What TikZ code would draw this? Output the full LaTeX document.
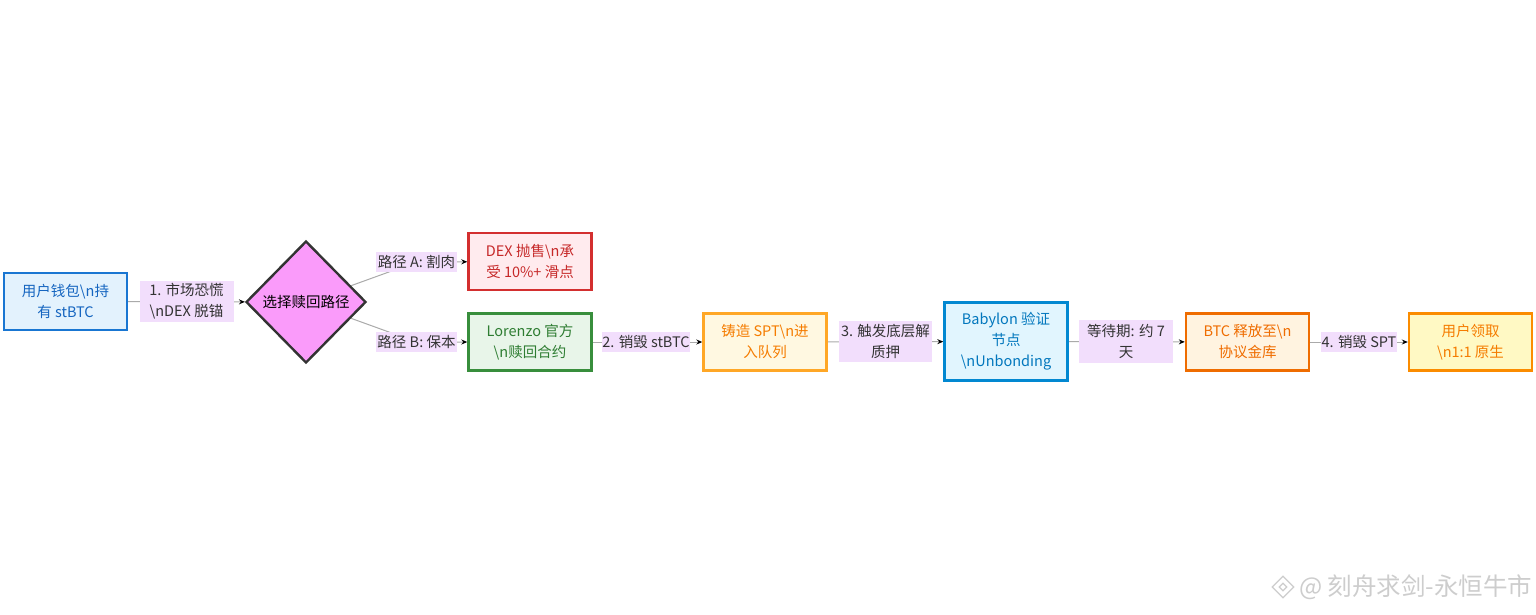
\documentclass[tikz,border=0pt]{standalone}
\usepackage{fontspec}
\setmainfont{Noto Sans CJK SC}
\usetikzlibrary{shapes.geometric,arrows.meta,backgrounds}
\definecolor{lav}{RGB}{242,222,252}
\definecolor{edgegray}{RGB}{170,170,170}
\definecolor{bluefill}{HTML}{E3F2FD}\definecolor{blueline}{HTML}{1976D2}\definecolor{bluetext}{HTML}{1565C0}
\definecolor{pinkfill}{RGB}{250,155,250}\definecolor{darkline}{HTML}{333333}
\definecolor{redfill}{HTML}{FFEBEE}\definecolor{redline}{HTML}{D32F2F}\definecolor{redtext}{HTML}{C62828}
\definecolor{greenfill}{HTML}{E8F5E9}\definecolor{greenline}{HTML}{388E3C}\definecolor{greentext}{HTML}{2E7D32}
\definecolor{ambfill}{HTML}{FFF8E1}\definecolor{ambline}{HTML}{FFA726}\definecolor{ambtext}{HTML}{F57C00}
\definecolor{cyanfill}{HTML}{E1F5FE}\definecolor{cyanline}{HTML}{0288D1}\definecolor{cyantext}{HTML}{0277BD}
\definecolor{orfill}{HTML}{FFF3E0}\definecolor{orline}{HTML}{EF6C00}\definecolor{ortext}{HTML}{EF6C00}
\definecolor{yelfill}{HTML}{FFF9C4}\definecolor{yelline}{HTML}{FB8C00}\definecolor{yeltext}{HTML}{F57C00}
\definecolor{wm}{RGB}{205,205,205}
\definecolor{lbltext}{HTML}{333333}
\tikzset{
  base/.style={font=\fontsize{14.5}{21}\selectfont, align=center, inner sep=0pt},
  box/.style={base, rectangle, line width=2.4pt, minimum width=123pt, minimum height=57pt},
  lbl/.style={base, fill=lav, text=lbltext, inner sep=0pt},
  edge/.style={draw=edgegray, line width=1pt},
  arr/.style={edge, -{Stealth[length=6pt,width=5pt,color=black]}},
}
\begin{document}
\begin{tikzpicture}[x=1pt,y=-1pt]
\useasboundingbox (0,0) rectangle (1536,614);
\node[box, fill=bluefill, draw=blueline, text=bluetext] (n1) at (65.5,301.5) {用户钱包\textbackslash n持\\有 stBTC};
\node[base, diamond, aspect=1, minimum width=120pt, minimum height=122pt, fill=pinkfill, draw=darkline, line width=2.4pt, text=black] (d) at (306,302) {选择赎回路径};
\node[lbl, minimum width=94pt, minimum height=41pt] (l1) at (186.5,301.5) {1. 市场恐慌\\\textbackslash nDEX 脱锚};
\node[lbl, minimum width=81pt, minimum height=20pt] (la) at (416.5,262) {路径 A: 割肉};
\node[lbl, minimum width=81pt, minimum height=20pt] (lb) at (416.5,342) {路径 B: 保本};
\node[box, fill=redfill, draw=redline, text=redtext] (dex) at (530,261.5) {DEX 抛售\textbackslash n承\\受 10\%+ 滑点};
\node[box, fill=greenfill, draw=greenline, text=greentext] (lor) at (530,342) {Lorenzo 官方\\\textbackslash n赎回合约};
\node[lbl, minimum width=86pt, minimum height=20pt] (l2) at (646,342) {2. 销毁 stBTC};
\node[box, fill=ambfill, draw=ambline, text=ambtext] (spt) at (765,342) {铸造 SPT\textbackslash n进\\入队列};
\node[lbl, minimum width=93pt, minimum height=41pt] (l3) at (885.5,341.5) {3. 触发底层解\\质押};
\node[box, fill=cyanfill, draw=cyanline, text=cyantext, minimum height=78pt] (bab) at (1006,341.5) {Babylon 验证\\节点\\\textbackslash nUnbonding};
\node[lbl, minimum width=94pt, minimum height=43pt] (l4) at (1126,341.5) {等待期: 约 7\\天};
\node[box, fill=orfill, draw=orline, text=ortext] (btc) at (1247.5,342) {BTC 释放至\textbackslash n\\协议金库};
\node[lbl, minimum width=76pt, minimum height=20pt] (l5) at (1359,342) {4. 销毁 SPT};
\node[box, fill=yelfill, draw=yelline, text=yeltext] (fin) at (1470.5,342) {用户领取\\\textbackslash n1:1 原生};
\begin{scope}[on background layer]
\fill[white] (0,0) rectangle (1536,614);
\draw[arr] (n1) -- (d);
\draw[arr] (d) -- (la.center) -- (dex);
\draw[arr] (d) -- (lb.center) -- (lor);
\draw[arr] (lor) -- (spt);
\draw[arr] (spt) -- (bab);
\draw[arr] (bab) -- (btc);
\draw[arr] (btc) -- (fin);
\end{scope}
% watermark
\node[diamond, aspect=1, draw=wm, line width=1.3pt, minimum size=22pt, inner sep=0pt] (wlogo) at (1283,587) {};
\node[diamond, aspect=1, draw=wm, line width=1.3pt, minimum size=8pt, inner sep=0pt] (wlogoc) at (1283,587) {};
\node[base, text=wm, font=\fontsize{24.5}{27}\selectfont, anchor=west] (wtext) at (1299,587) {@ 刻舟求剑-永恒牛市};
\end{tikzpicture}
\end{document}
